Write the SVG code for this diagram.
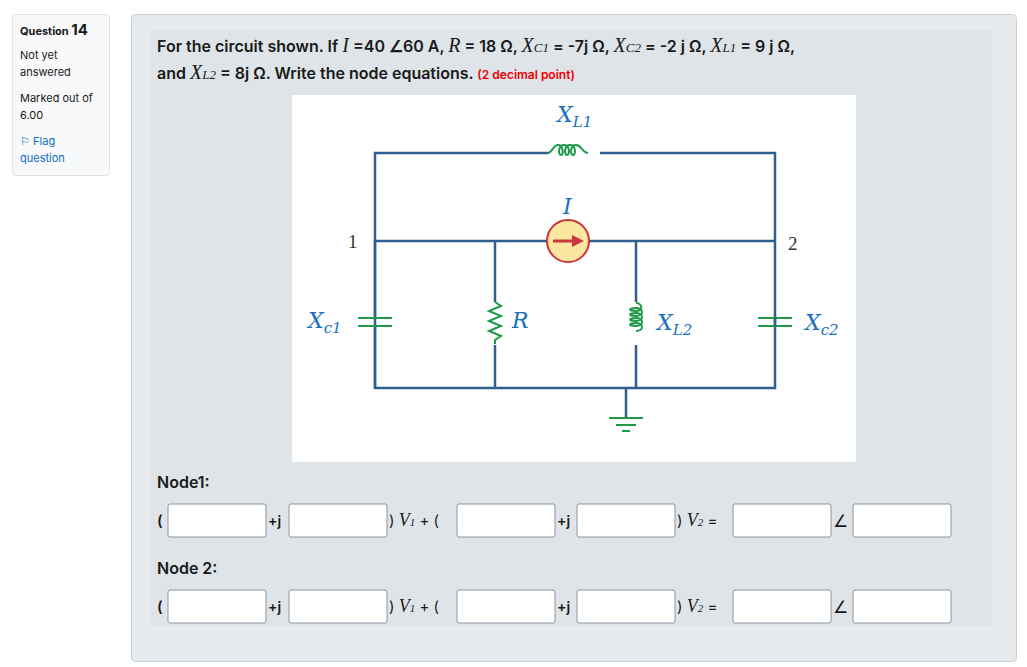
<svg xmlns="http://www.w3.org/2000/svg" width="1027" height="667" viewBox="0 0 1027 667">
<style>
.s{font-family:Inter,"Liberation Sans",sans-serif;fill:#1a1a1a}
.w{stroke:#2f5f8f;stroke-width:2.5;fill:none}
.g{stroke:#1e9a4a;stroke-width:2;fill:none}
.lb{font-family:"DejaVu Serif",serif;font-style:italic;fill:#1a6fc0;font-size:22px}
.m{font-family:"Liberation Serif",serif;font-style:italic}
.box{fill:#fff;stroke:#8a96a0;stroke-width:1}
</style>
<rect width="1027" height="667" fill="#fff"/>
<g id="info">
<rect x="12.5" y="14.5" width="97" height="161" rx="3" fill="#f8f9fa" stroke="#dee2e6"/>
<text x="20" y="35" class="s" font-size="11" font-weight="bold">Question <tspan font-size="15">14</tspan></text>
<text x="20" y="59" class="s" font-size="11" fill="#555">Not yet</text>
<text x="20" y="76" class="s" font-size="11" fill="#555">answered</text>
<text x="20" y="102" class="s" font-size="11" fill="#555">Marked out of</text>
<text x="20" y="119" class="s" font-size="11" fill="#555">6.00</text>
<text x="20" y="145" class="s" font-size="11" style="fill:#0f6cbf">⚐ Flag</text>
<text x="20" y="162" class="s" font-size="11" style="fill:#0f6cbf">question</text>
</g>
<rect x="131.5" y="14.5" width="885" height="647" rx="4" fill="#e7ebee" stroke="#c8cfd5"/>
<rect x="150" y="30" width="842" height="595" fill="#dee4e8"/>
<g id="question">
<text x="157" y="52" class="s" font-size="16" font-weight="600">For the circuit shown. If <tspan class="m" font-size="20" font-weight="normal">I</tspan> =40 ∠60 A, <tspan class="m" font-size="20" font-weight="normal">R</tspan> = 18 Ω, <tspan class="m" font-size="20" font-weight="normal">X<tspan font-size="13">C1</tspan></tspan> = -7j  Ω, <tspan class="m" font-size="20" font-weight="normal">X<tspan font-size="13">C2</tspan></tspan> = -2 j Ω, <tspan class="m" font-size="20" font-weight="normal">X<tspan font-size="13">L1</tspan></tspan> = 9 j Ω,</text>
<text x="157" y="79" class="s" font-size="16" font-weight="600">and <tspan class="m" font-size="20" font-weight="normal">X<tspan font-size="13">L2</tspan></tspan> = 8j  Ω. Write the node equations. <tspan font-size="12" style="fill:#e00">(2 decimal point)</tspan></text>
</g>
<rect x="292" y="95" width="564" height="367" fill="#fff"/>
<g id="wires" class="w">
<path d="M548 153H375V388H775V153H600"/>
<path d="M375 241H547M589 241H775"/>
<path d="M495 241V302M495 345V388"/>
<path d="M636 241V302M636 345V388"/>
<path d="M375 241V318M375 326V388" />
<path d="M626 388V418"/>
</g>
<g id="XL1"><path class="g" d="M548 153c4 0 5-8 10-8s6 10 3 10-3-10 3-10 6 10 3 10-3-10 3-10 6 10 3 10-3-10 3-10 6 8 12 8"/><text x="557" y="122" class="lb">X<tspan font-size="15" dy="5">L1</tspan></text></g>
<g id="I"><circle cx="568" cy="241" r="21" fill="#fde7a0" stroke="#c8373a" stroke-width="2"/><path d="M553 241H574" stroke="#c8373a" stroke-width="3"/><path d="M584 241l-12-6v12z" fill="#c8373a"/><text x="563" y="214" class="lb">I</text></g>
<g id="R"><path class="g" d="M495 302l6 4-12 5 12 5-12 5 12 5-12 5 12 5-6 4v4"/><text x="512" y="328" class="lb">R</text></g>
<g id="XL2"><path class="g" d="M636 303c6 0 8 8 0 8s-8-3 0-3 8 8 0 8-8-3 0-3 8 8 0 8-8-3 0-3 8 8 0 8-8-3 0-3 8 8 0 8"/><text x="657" y="330" class="lb">X<tspan font-size="15" dy="5">L2</tspan></text></g>
<g id="XC1"><path class="g" d="M358 318H392M358 326H392"/><text x="308" y="328" class="lb">X<tspan font-size="15" dy="5">c1</tspan></text></g>
<g id="XC2"><path class="g" d="M758 318H792M758 326H792" transform="translate(0 0)"/><path class="w" d="M775 318V326" stroke="#fff" stroke-width="5"/><text x="805" y="330" class="lb">X<tspan font-size="15" dy="5">c2</tspan></text></g>
<g id="gnd"><path class="g" d="M609 418H643M616 425H636M622 431H630"/></g>
<text x="348" y="248" font-family="Liberation Serif,serif" font-size="19" fill="#333">1</text>
<text x="788" y="250" font-family="Liberation Serif,serif" font-size="19" fill="#333">2</text>
<g id="node1">
<text x="157" y="488" class="s" font-size="16" font-weight="600">Node1:</text>
<text x="157" y="526" class="s" font-size="15" font-weight="600">(</text>
<rect class="box" x="168" y="504" width="98" height="33" rx="2"/>
<text x="268" y="526" class="s" font-size="14" font-weight="600">+j</text>
<rect class="box" x="289" y="504" width="98" height="33" rx="2"/>
<text x="389" y="526" class="s" font-size="15">) <tspan class="m" font-size="18">V</tspan><tspan font-size="11" class="m">1</tspan> + (</text>
<rect class="box" x="457" y="504" width="98" height="33" rx="2"/>
<text x="557" y="526" class="s" font-size="14" font-weight="600">+j</text>
<rect class="box" x="577" y="504" width="98" height="33" rx="2"/>
<text x="677" y="526" class="s" font-size="15">) <tspan class="m" font-size="18">V</tspan><tspan font-size="11" class="m">2</tspan> =</text>
<rect class="box" x="733" y="504" width="98" height="33" rx="2"/>
<text x="833" y="527" class="s" font-size="17" fill="#666">∠</text>
<rect class="box" x="853" y="504" width="98" height="33" rx="2"/>
</g>
<g id="node2">
<text x="157" y="574" class="s" font-size="16" font-weight="600">Node 2:</text>
<text x="157" y="612" class="s" font-size="15" font-weight="600">(</text>
<rect class="box" x="168" y="590" width="98" height="33" rx="2"/>
<text x="268" y="612" class="s" font-size="14" font-weight="600">+j</text>
<rect class="box" x="289" y="590" width="98" height="33" rx="2"/>
<text x="389" y="612" class="s" font-size="15">) <tspan class="m" font-size="18">V</tspan><tspan font-size="11" class="m">1</tspan> + (</text>
<rect class="box" x="457" y="590" width="98" height="33" rx="2"/>
<text x="557" y="612" class="s" font-size="14" font-weight="600">+j</text>
<rect class="box" x="577" y="590" width="98" height="33" rx="2"/>
<text x="677" y="612" class="s" font-size="15">) <tspan class="m" font-size="18">V</tspan><tspan font-size="11" class="m">2</tspan> =</text>
<rect class="box" x="733" y="590" width="98" height="33" rx="2"/>
<text x="833" y="613" class="s" font-size="17" fill="#666">∠</text>
<rect class="box" x="853" y="590" width="98" height="33" rx="2"/>
</g>
</svg>
